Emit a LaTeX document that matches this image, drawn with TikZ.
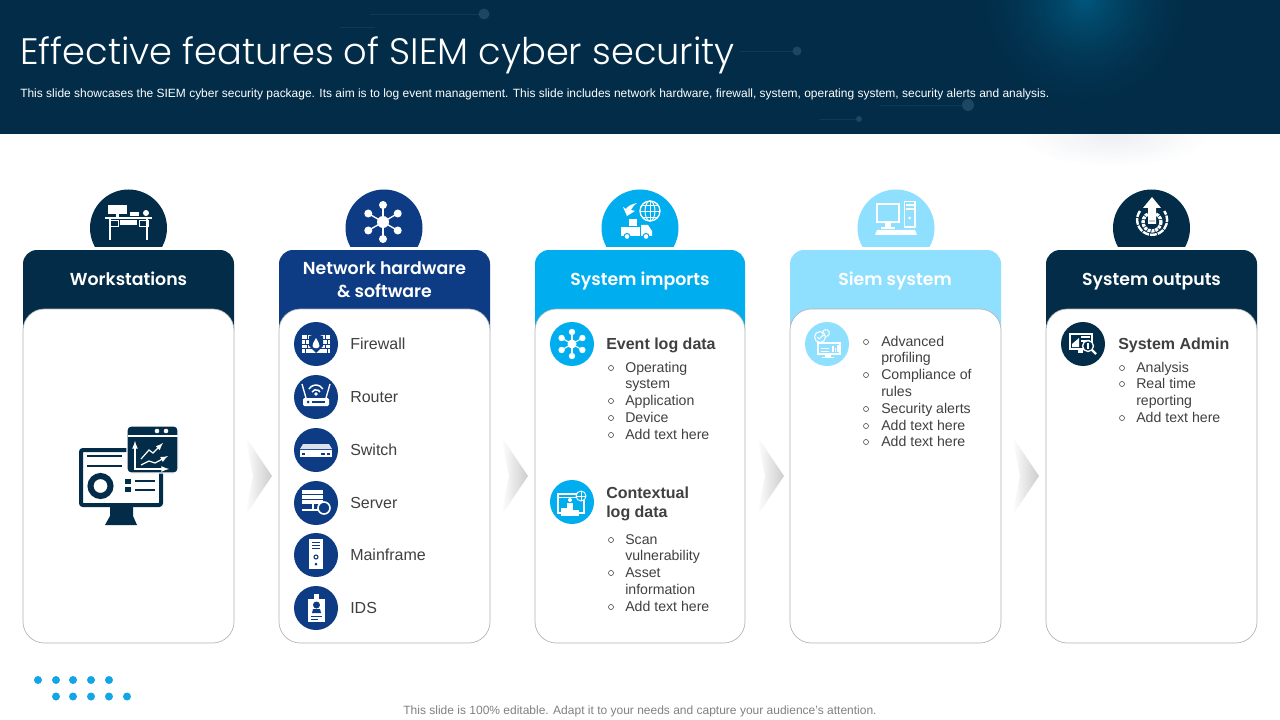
\documentclass[tikz,border=0pt]{standalone}
\usepackage{fontspec}
\setmainfont{Liberation Sans}
\newfontfamily\gothiclight{Poppins}[UprightFont=* Light]
\newfontfamily\gothicbold{Poppins}[UprightFont=* SemiBold]

\definecolor{navy}{HTML}{022C47}
\definecolor{royal}{HTML}{0D3C84}
\definecolor{sky}{HTML}{00AEEF}
\definecolor{pale}{HTML}{8FDFFF}
\definecolor{glowteal}{HTML}{00587E}
\definecolor{wire}{HTML}{1B4762}
\definecolor{wireline}{HTML}{0F3A55}
\definecolor{mist}{HTML}{ECEEF2}
\definecolor{dotblue}{HTML}{12A6E6}
\definecolor{bodytext}{HTML}{404040}

\tikzset{
	headbox/.style={rounded corners=10.5pt},
	bodybox/.style={draw=black!30, fill=white, rounded corners=16pt, line width=.5pt},
	halfcap/.style={circle, minimum size=57.75pt, inner sep=0pt},
	iconbg/.style={circle, minimum size=33pt, inner sep=0pt},
	headtxt/.style={text=white, align=center, font=\gothicbold\fontsize{13}{17.2}\selectfont},
	headone/.style={headtxt, text height=10pt, text depth=3pt},
	nettxt/.style={anchor=west, inner sep=0pt, text=bodytext, text height=10.5pt, text depth=2pt, font=\fontsize{12}{14}\selectfont},
	subhead/.style={anchor=west, inner sep=0pt, text=bodytext, text height=10.5pt, text depth=2.5pt, font=\bfseries\fontsize{12}{14}\selectfont},
	listtxt/.style={anchor=west, inner sep=0pt, text=bodytext, text height=9.5pt, text depth=2pt, font=\fontsize{10.6}{12}\selectfont},
	bul/.style={circle, draw=bodytext, line width=.4pt, minimum size=3.8pt, inner sep=0pt},
	chev/.style={left color=white, right color=black!20, draw=none},
	bluedot/.style={circle, fill=dotblue, minimum size=6pt, inner sep=0pt},
}

\begin{document}
\begin{tikzpicture}[x=0.75pt, y=-0.75pt]
	\useasboundingbox (0,0) rectangle (1280,720);

	% Soft glow under the banner
	\foreach \k in {100,95,...,5} {
		\pgfmathtruncatemacro\m{100-\k}
		\fill [mist!\m!white] (1115,134) ellipse [x radius=\k, y radius=0.33*\k];
	}

	% Banner
	\fill [navy] (0,0) rectangle (1280,134);
	\begin{scope}
		\clip (0,0) rectangle (1280,134);
		\foreach \k in {125,122,...,2} {
			\pgfmathtruncatemacro\m{100*(1-\k/125)*(1-\k/125)}
			\fill [glowteal!\m!navy] (1085,0) circle [radius=\k];
		}
	\end{scope}

	% Faint wires on the banner
	\draw [wireline, line width=.5pt] (340,27) -- (375,27);
	\draw [wireline, line width=.7pt] (370,14) -- (484,14);
	\fill [wire] (484,14) circle [radius=5.5];
	\draw [wireline, line width=.7pt] (740,51) -- (797,51);
	\fill [wire] (797,51) circle [radius=4.5];
	\draw [wireline, line width=.7pt] (880,105) -- (968,105);
	\fill [wire] (968,105) circle [radius=6];
	\draw [wireline, line width=.5pt] (820,119) -- (859,119);
	\fill [wire] (859,119) circle [radius=3];

	% Banner texts
	\node [anchor=west, inner sep=0pt, text=white, font=\gothiclight\fontsize{27.6}{34}\selectfont] (title) at (20,55) {Effective features of SIEM cyber security};
	\node [anchor=west, inner sep=0pt, text=white, font=\fontsize{8.98}{11}\selectfont] (subtitle) at (20,94) {This slide showcases the SIEM cyber security package. Its aim is to log event management. This slide includes network hardware, firewall, system, operating system, security alerts and analysis.};

	% Half circles on top of the cards
	\begin{scope}
		\clip (0,0) rectangle (1280,246);
		\node [halfcap, fill=navy] (capwork) at (128.5,228) {};
		\node [halfcap, fill=royal] (capnet) at (384,228) {};
		\node [halfcap, fill=sky] (capimp) at (640,228) {};
		\node [halfcap, fill=pale] (capsiem) at (896,228) {};
		\node [halfcap, fill=navy] (capout) at (1151.5,228) {};
	\end{scope}

	% Card heads
	\fill [headbox, navy] (23,250) rectangle (234,345);
	\fill [headbox, royal] (279,250) rectangle (490,345);
	\fill [headbox, sky] (535,250) rectangle (745,345);
	\fill [headbox, pale] (790,250) rectangle (1001,345);
	\fill [headbox, navy] (1046,250) rectangle (1257,345);

	% Card bodies
	\draw [bodybox] (23,309) rectangle (234,643);
	\draw [bodybox] (279,309) rectangle (490,643);
	\draw [bodybox] (535,309) rectangle (745,643);
	\draw [bodybox] (790,309) rectangle (1001,643);
	\draw [bodybox] (1046,309) rectangle (1257,643);

	% Card titles
	\node [headone] (headwork) at (128.5,281) {Workstations};
	\node [headtxt] (headnet) at (384.5,279.5) {Network hardware\\\& software};
	\node [headone] (headimp) at (640,281) {System imports};
	\node [headone] (headsiem) at (895,281) {Siem system};
	\node [headone] (headout) at (1151.5,281) {System outputs};

	% Chevrons between the cards
	\shade [chev] (245,436) -- (272,476) -- (245,516) -- (253,476) -- cycle;
	\shade [chev] (501,436) -- (528,476) -- (501,516) -- (509,476) -- cycle;
	\shade [chev] (757,436) -- (784,476) -- (757,516) -- (765,476) -- cycle;
	\shade [chev] (1012,436) -- (1039,476) -- (1012,516) -- (1020,476) -- cycle;

	% Small icon circles
	\foreach \y/\n in {344/fire, 397/rout, 450/swit, 503/serv, 555/main, 608/ids}
		\node [iconbg, fill=royal] (ic\n) at (316,\y) {};
	\node [iconbg, fill=sky] (icevent) at (572,344) {};
	\node [iconbg, fill=sky] (iccontext) at (572,502) {};
	\node [iconbg, fill=pale] (icsiem) at (827,344) {};
	\node [iconbg, fill=navy] (icadmin) at (1083,344) {};

	% Network list
	\node [nettxt] (firewall) at (350,344) {Firewall};
	\node [nettxt] (router) at (350,397) {Router};
	\node [nettxt] (switch) at (350,450) {Switch};
	\node [nettxt] (server) at (350,503) {Server};
	\node [nettxt] (mainframe) at (350,555) {Mainframe};
	\node [nettxt] (idstxt) at (350,608) {IDS};

	% System imports list
	\node [subhead] (eventlog) at (606,344) {Event log data};
	\foreach \y/\t in {367/Operating, 383/system, 400/Application, 417/Device, 434/Add text here}
		\node [listtxt] (ev\y) at (625,\y) {\t};
	\foreach \y in {367, 400, 417, 434}
		\node [bul] (evb\y) at (611,\y+1) {};
	\node [subhead] (context) at (606,493) {Contextual};
	\node [subhead] (contextb) at (606,512) {log data};
	\foreach \y/\t in {539/Scan, 555/vulnerability, 572/Asset, 589/information, 606/Add text here}
		\node [listtxt] (co\y) at (625,\y) {\t};
	\foreach \y in {539, 572, 606}
		\node [bul] (cob\y) at (611,\y+1) {};

	% Siem list
	\foreach \y/\t in {341/Advanced, 357/profiling, 374/Compliance of, 391/rules, 408/Security alerts, 425/Add text here, 441/Add text here}
		\node [listtxt] (si\y) at (881,\y) {\t};
	\foreach \y in {341, 374, 408, 425, 441}
		\node [bul] (sib\y) at (866,\y+1) {};

	% System outputs list
	\node [subhead] (admin) at (1118,344) {System Admin};
	\foreach \y/\t in {367/Analysis, 383/Real time, 400/reporting, 417/Add text here}
		\node [listtxt] (ad\y) at (1136,\y) {\t};
	\foreach \y in {367, 383, 417}
		\node [bul] (adb\y) at (1122,\y+1) {};

	% Desk icon
	\begin{scope}[white]
		\fill (108,205) rectangle (127,214);
		\fill (116,214) rectangle (119,217);
		\fill (130,212) rectangle (139,216);
		\fill (146,213) circle [radius=3];
		\fill (105,217) rectangle (152,219.5);
		\fill (108.5,219) rectangle (111,240);
		\fill (145.5,219) rectangle (148,240);
		\fill (120,220) rectangle (137,225);
		\draw [line width=.6pt] (110,220) rectangle (118,226);
		\draw [line width=.6pt] (139,220) rectangle (148,226);
	\end{scope}

	% Big dashboard icon
	\draw [navy, fill=white, line width=3pt, rounded corners=1.5pt] (81,450) rectangle (161,505);
	\fill [navy] (110,507) -- (133,507) -- (133,516) -- (137,525) -- (105,525) -- (110,516) -- cycle;
	\draw [navy, line width=1.7pt] (87,456) -- (122,456);
	\draw [navy, line width=1.7pt] (87,466) -- (122,466);
	\draw [navy, line width=4.5pt] (100.5,486) circle [radius=10];
	\fill [navy] (125,479) rectangle (131,484);
	\fill [navy] (125,487) rectangle (131,492);
	\draw [navy, line width=1.5pt] (135,481) -- (155,481);
	\draw [navy, line width=1.5pt] (135,490) -- (155,490);
	\draw [white, fill=navy, line width=.8pt, rounded corners=3pt] (127,426) rectangle (178,473);
	\draw [white, line width=.8pt] (127.5,436) -- (177.5,436);
	\fill [white] (157,431) circle [radius=2.3];
	\fill [white] (166,431) circle [radius=2.3];
	\draw [white, line width=1pt, -latex] (135,470) -- (135,441);
	\draw [white, line width=1pt, -latex] (135,469) -- (169,469);
	\draw [white, line width=.9pt, -latex] (141,459) -- (149,450) -- (153,453) -- (163,443);
	\draw [white, line width=.9pt, -latex] (141,465) -- (149,461) -- (155,463) -- (168,456);

	% Hub icon on the network card
	\fill [white] (383,222) circle [radius=6];
	\foreach \a in {30,90,...,330} {
		\draw [white, line width=1pt] (383,222) -- ++(\a:17);
		\fill [white] (383,222) ++(\a:17) circle [radius=4];
	}

	% Firewall icon
	\begin{scope}[shift={(316,344)}]
		\fill [white] (-14,-9) rectangle (14,9);
		\foreach \y in {-4.5,0,4.5}
			\draw [royal, line width=.6pt] (-14,\y) -- (14,\y);
		\draw [royal, line width=.6pt] (-9,-9) -- (-9,-4.5) (9,-9) -- (9,-4.5) (-11,-4.5) -- (-11,0) (11,-4.5) -- (11,0) (-9,0) -- (-9,4.5) (9,0) -- (9,4.5) (-11,4.5) -- (-11,9) (11,4.5) -- (11,9);
		\fill [royal] (-7,-8) -- (0,-10) -- (7,-8) -- (7,2) -- (0,9) -- (-7,2) -- cycle;
		\fill [white] (0,-6) .. controls (1,-3) and (4,-1) .. (3.5,2) .. controls (3,5) and (-3,5) .. (-3.5,2) .. controls (-4,0) and (-2,-2) .. (0,-6);
	\end{scope}

	% Router icon
	\begin{scope}[shift={(316,397)}]
		\fill [white, rounded corners=1pt] (-13,1) rectangle (13,9);
		\fill [royal] (-8,5) circle [radius=1.5];
		\fill [royal] (-4,4) rectangle (9,6);
		\draw [white, line width=1pt] (-10,1) -- (-14,-13);
		\draw [white, line width=1pt] (10,1) -- (14,-13);
		\fill [white] (0,-3) circle [radius=1.8];
		\draw [white, line width=1.1pt] (-4,-5) arc [start angle=210, end angle=330, radius=4.6];
		\draw [white, line width=1.1pt] (-7,-8) arc [start angle=210, end angle=330, radius=8];
	\end{scope}

	% Switch icon
	\begin{scope}[shift={(316,450)}]
		\fill [white!85!royal] (-13,-6) -- (13,-6) -- (16,-1) -- (-16,-1) -- cycle;
		\fill [white] (-16,0) rectangle (16,7);
		\fill [royal] (5,2.5) rectangle (9,5);
		\fill [royal] (10.5,2.5) rectangle (14,5);
		\fill [royal] (-14,3) rectangle (-11.5,5);
	\end{scope}

	% Server icon
	\begin{scope}[shift={(316,503)}]
		\fill [white] (-14,-13) rectangle (7,-9);
		\fill [white] (-14,-8) rectangle (7,-4);
		\fill [white] (-14,-3) rectangle (7,1);
		\fill [white] (-4,1) rectangle (-2,6);
		\fill [white] (-14,6) rectangle (2,7.5);
		\draw [white, fill=royal, line width=1.2pt] (8,5) circle [radius=6];
	\end{scope}

	% Mainframe icon
	\begin{scope}[shift={(316,555)}]
		\fill [white] (-7,-16) rectangle (7,14);
		\foreach \y in {-12.5,-9.5,-6.5}
			\draw [royal, line width=1pt] (-4,\y) -- (4,\y);
		\draw [royal, line width=.8pt] (0,2) circle [radius=2];
		\fill [royal] (0,9) circle [radius=1.5];
	\end{scope}

	% IDS badge icon
	\begin{scope}[shift={(316,608)}]
		\fill [white] (-8,-9) rectangle (9,14);
		\fill [white] (-2,-14) rectangle (3,-9);
		\fill [royal] (0.5,-3) circle [radius=3.5];
		\fill [royal] (-4,5) -- (-3,1) -- (4,1) -- (5,5) -- cycle;
		\draw [royal, line width=.7pt] (-5,8) -- (6,8);
		\draw [royal, line width=.7pt] (-5,11) -- (2,11);
	\end{scope}

	% Imports icon
	\begin{scope}[white]
		\draw [line width=1pt] (650,211) circle [radius=10];
		\draw [line width=.7pt] (650,201) -- (650,221) (640,211) -- (660,211) (642,205) -- (658,205) (642,217) -- (658,217);
		\draw [line width=.7pt] (650,211) ellipse [x radius=5, y radius=10];
		\fill (637,203) .. controls (631,204) and (627,207) .. (626,209) -- (623,207) -- (627,216) -- (635,211) -- (631,210) .. controls (632,208) and (634,205) .. (637,203);
		\fill (629,219) rectangle (637,226);
		\fill (621,227) rectangle (640,236);
		\fill (641,225) -- (648,225) -- (652,231) -- (652,236) -- (641,236) -- cycle;
		\draw [fill=white, draw=sky, line width=.8pt] (627,236.5) circle [radius=3];
		\draw [fill=white, draw=sky, line width=.8pt] (646,236.5) circle [radius=3];
	\end{scope}

	% Siem computer icon
	\begin{scope}[white]
		\draw [line width=1.8pt] (877,204) rectangle (899,222);
		\fill (885,223) rectangle (891,228);
		\fill (881,227) rectangle (895,229);
		\draw [line width=1pt] (904.5,201.5) rectangle (915,227);
		\fill (906,204) rectangle (913.5,206);
		\fill (906,208) rectangle (913.5,210);
		\fill (909.5,218) circle [radius=1.5];
		\fill (877,230) -- (915,230) -- (917,235) -- (875,235) -- cycle;
	\end{scope}

	% Outputs icon
	\begin{scope}[shift={(1152,218)}, white]
		\draw [line width=1.8pt, dash pattern=on 5pt off .8pt] (-12,-7) arc [start angle=216, end angle=-36, radius=15];
		\draw [line width=2.5pt, dash pattern=on 2.2pt off .7pt] (0,4) circle [radius=9];
		\fill (0,-21) -- (9,-10) -- (4,-10) -- (4,6) -- (-4,6) -- (-4,-10) -- (-9,-10) -- cycle;
		\foreach \x in {-2,0,2}
			\fill [navy] (\x,3) circle [radius=.6];
	\end{scope}

	% Event hub icon
	\fill [white] (572,344) circle [radius=4.5];
	\foreach \a in {30,90,...,330} {
		\draw [white, line width=.8pt] (572,344) -- ++(\a:12);
		\fill [white] (572,344) ++(\a:12) circle [radius=3.2];
	}

	% Context icon
	\begin{scope}[shift={(572,502)}, white]
		\draw [line width=.9pt] (-14,-8) rectangle (12,11);
		\draw [line width=.9pt] (-14,-4.5) -- (12,-4.5);
		\fill (-5,1) rectangle (1,14);
		\fill (-11,6) rectangle (-5,14);
		\fill (1,8) rectangle (7,14);
		\fill (-2,-2) circle [radius=2];
		\draw [fill=sky, line width=.7pt] (9,-6) circle [radius=5];
		\draw [line width=.5pt] (9,-11) -- (9,-1) (4,-6) -- (14,-6);
	\end{scope}

	% Siem small icon
	\begin{scope}[shift={(827,344)}, white]
		\draw [line width=.8pt] (-7,-7) circle [radius=5.5];
		\draw [line width=.8pt] (-10,-7) -- (-8,-5) -- (-4,-9);
		\draw [line width=1pt, dash pattern=on 1.2pt off .6pt] (-1,-11) circle [radius=3.5];
		\draw [line width=.9pt, fill=pale] (-9,-1) rectangle (13,10);
		\fill (5,2) rectangle (6.5,8);
		\fill (7.5,4) rectangle (9,8);
		\fill (10,1) rectangle (11.5,8);
		\draw [line width=.7pt] (-6,4) -- (2,4) (-6,7) -- (2,7);
		\fill (-2,10) rectangle (4,13);
		\fill (-5,12.5) rectangle (7,13.5);
	\end{scope}

	% Admin icon
	\begin{scope}[shift={(1083,344)}, white]
		\draw [line width=.9pt] (-13,-10) rectangle (9,5);
		\fill (-11,0) -- (-4,-6) -- (-4,3) -- (-11,3) -- cycle;
		\fill (-2,-8) rectangle (7,-6);
		\fill (-2,-4) rectangle (7,-2.5);
		\fill (-5,6) rectangle (0,9);
		\draw [line width=1pt, fill=navy] (5,2) circle [radius=5.5];
		\draw [line width=1.8pt] (9,6) -- (13,10);
		\fill (4,-1) rectangle (6,5);
	\end{scope}

	% Dots in the corner
	\foreach \x in {38,56,73,91,109} \node [bluedot] (up\x) at (\x,680) {};
	\foreach \x in {56,73,91,109,127} \node [bluedot] (lo\x) at (\x,696.5) {};

	% Footer
	\node [inner sep=0pt, text=black!50, font=\fontsize{9}{11}\selectfont] (footer) at (640,711) {This slide is 100\% editable. Adapt it to your needs and capture your audience's attention.};
\end{tikzpicture}
\end{document}
